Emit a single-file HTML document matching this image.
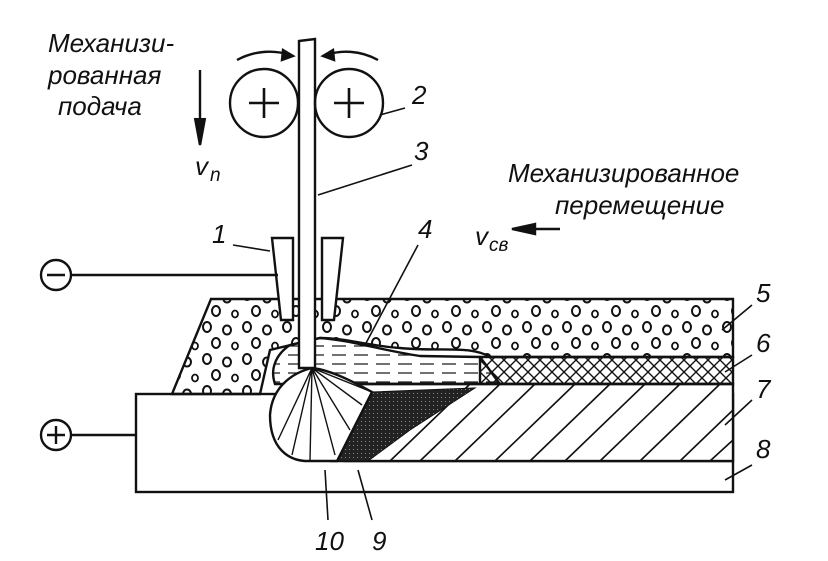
<!DOCTYPE html>
<html><head><meta charset="utf-8"><style>
html,body{margin:0;padding:0;background:#fff;width:828px;height:561px;overflow:hidden}
text{font-family:"Liberation Sans",sans-serif;font-style:italic;fill:#111}
</style></head><body>
<svg width="828" height="561" viewBox="0 0 828 561" xmlns="http://www.w3.org/2000/svg">
<defs>
<pattern id="dots" width="40" height="32" patternUnits="userSpaceOnUse">
<ellipse cx="7" cy="7" rx="4" ry="5" fill="none" stroke="#111" stroke-width="2"/>
<ellipse cx="27" cy="10" rx="4" ry="4.5" fill="none" stroke="#111" stroke-width="2"/>
<ellipse cx="16" cy="23" rx="4" ry="5" fill="none" stroke="#111" stroke-width="2"/>
<ellipse cx="35" cy="26" rx="3" ry="3.5" fill="none" stroke="#111" stroke-width="1.8"/>
</pattern>
<pattern id="cross" width="12" height="12" patternUnits="userSpaceOnUse">
<path d="M0 0L12 12M12 0L0 12" stroke="#111" stroke-width="1.4"/>
</pattern>
<pattern id="dash" width="22" height="9" patternUnits="userSpaceOnUse">
<path d="M2 4H16" stroke="#111" stroke-width="1.2"/>
</pattern>
<pattern id="dark" width="4" height="4" patternUnits="userSpaceOnUse">
<rect width="4" height="4" fill="#222"/><rect x="1" y="1" width="1" height="1" fill="#888"/>
</pattern>
</defs>
<g stroke="#111" stroke-width="2.4" fill="none">
<rect x="136" y="394" width="597" height="98" fill="#fff"/>
<line x1="330" y1="461" x2="733" y2="461"/>
<path d="M211 299 L733 299 L733 357 L490 357 C470 345 440 352 400 348 C370 346 345 338 320 338 L270 350 L260 394 L172 394 Z" fill="url(#dots)"/>
<rect x="480" y="357" width="253" height="27" fill="url(#cross)"/>
<path d="M290 345 L320 338 C350 340 380 350 420 356 L480 357 C490 370 495 378 500 384 L345 384 L275 384 C270 370 275 355 290 345 Z" fill="url(#dash)"/>
<rect x="345" y="384" width="388" height="77" fill="#fff"/>
<g stroke-width="1.6">
<path d="M390 461 L470 384 M420 461 L500 384 M455 461 L535 384 M495 461 L575 384 M530 461 L610 384 M565 461 L645 384 M600 461 L680 384 M640 461 L720 384 M680 461 L733 410 M710 461 L733 440"/>
</g>
<line x1="345" y1="384" x2="733" y2="384"/>
<path d="M337 461 L372 392 L475 388 L410 430 L368 461 Z" fill="url(#dark)" stroke-width="1"/>
<path d="M312 368 C295 372 272 385 270 415 C270 450 290 460 305 461 L337 461 L372 392 C350 380 330 370 312 368 Z" fill="#fff"/>
<g stroke-width="1.4">
<path d="M312 368 L278 440 M312 368 L292 455 M312 368 L310 460 M312 368 L335 455 M312 368 L350 430 M312 368 L362 405 M312 368 L372 392"/>
</g>
<path d="M299 41 L315 39 L315 368 L299 368 Z" fill="#fff"/>
<path d="M272 238 L293 238 L293 320 L281 320 Z" fill="#fff"/>
<path d="M322 238 L343 238 L334 320 L322 320 Z" fill="#fff"/>
<circle cx="264" cy="103" r="34"/>
<circle cx="349" cy="103" r="34"/>
<path d="M264 88V118M249 103H279M349 88V118M334 103H364" stroke-width="2.6"/>
<path d="M237 60 C255 50 275 50 290 55"/><path d="M378 60 C360 50 340 50 327 55"/>
<path d="M283 50 L293 56 L282 60 Z M333 50 L323 56 L334 60 Z" fill="#111"/>
<circle cx="56" cy="275" r="15"/><line x1="47" y1="275" x2="65" y2="275"/>
<line x1="71" y1="275" x2="278" y2="275"/>
<circle cx="56" cy="435" r="15"/><path d="M47 435H65M56 426V444"/>
<line x1="71" y1="435" x2="136" y2="435"/>
<line x1="200" y1="70" x2="200" y2="140"/><path d="M195 118 L200 145 L205 118" fill="#111"/>
<line x1="515" y1="229" x2="560" y2="229"/><path d="M535 224 L512 229 L535 234 Z" fill="#111"/>
<g stroke-width="1.6">
<line x1="233" y1="245" x2="270" y2="251"/>
<line x1="405" y1="108" x2="380" y2="115"/>
<line x1="412" y1="165" x2="318" y2="195"/>
<line x1="418" y1="245" x2="365" y2="345"/>
<line x1="752" y1="305" x2="722" y2="330"/>
<line x1="752" y1="355" x2="725" y2="372"/>
<line x1="752" y1="400" x2="725" y2="425"/>
<line x1="752" y1="465" x2="725" y2="480"/>
<line x1="325" y1="470" x2="328" y2="520"/>
<line x1="358" y1="470" x2="372" y2="520"/>
</g>
</g>
<g font-size="26">
<text x="48" y="52">Механизи-</text>
<text x="48" y="84">рованная</text>
<text x="58" y="115">подача</text>
<text x="195" y="175">v</text><text x="210" y="181" font-size="19">n</text>
<text x="508" y="182">Механизированное</text>
<text x="555" y="214">перемещение</text>
<text x="475" y="245">v</text><text x="489" y="251" font-size="19">cв</text>
<text x="212" y="243">1</text>
<text x="412" y="104">2</text>
<text x="414" y="160">3</text>
<text x="418" y="238">4</text>
<text x="756" y="302">5</text>
<text x="756" y="352">6</text>
<text x="756" y="398">7</text>
<text x="756" y="458">8</text>
<text x="315" y="550">10</text>
<text x="372" y="550">9</text>
</g>
</svg>
</body></html>
